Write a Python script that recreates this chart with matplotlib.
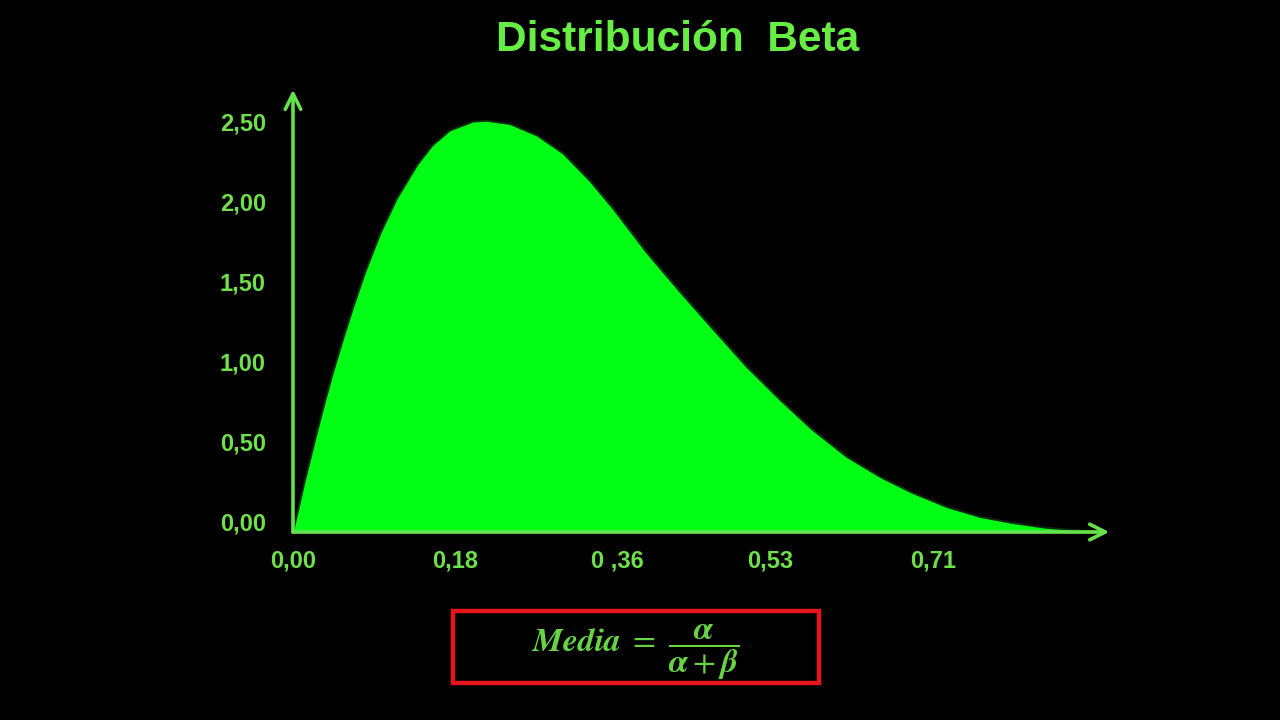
# curva de la distribucion beta, con ejes de flecha y formula de la media
from matplotlib import pyplot as plt
from matplotlib.patches import Rectangle
import numpy as np

# puntos (x, densidad)
x_val = [0.000, 0.013, 0.027, 0.036, 0.044, 0.056, 0.067, 0.080, 0.097, 0.115,
         0.138, 0.155, 0.174, 0.200, 0.215, 0.241, 0.271, 0.300, 0.330, 0.355,
         0.393, 0.430, 0.466, 0.504, 0.541, 0.577, 0.615, 0.652, 0.688, 0.726,
         0.763, 0.799, 0.837, 0.874, 0.900]
y_val = [0.000, 0.310, 0.620, 0.810, 0.970, 1.190, 1.380, 1.590, 1.830, 2.040,
         2.250, 2.370, 2.460, 2.515, 2.520, 2.500, 2.430, 2.320, 2.150, 1.985,
         1.710, 1.470, 1.245, 1.011, 0.809, 0.625, 0.460, 0.337, 0.239, 0.153,
         0.092, 0.055, 0.025, 0.010, 0.000]

x_ticks = [0.00, 0.18, 0.36, 0.53, 0.71]
x_labels = ['0,00', '0,18', '0 ,36', '0,53', '0,71']
y_ticks = [0.0, 0.5, 1.0, 1.5, 2.0, 2.5]
y_labels = ['0,00', '0,50', '1,00', '1,50', '2,00', '2,50']

green_txt = '#6fe04a'
green_axis = '#66e04c'
fill_green = '#00ff14'

plt.rcParams['font.family'] = ['Liberation Sans', 'DejaVu Sans']
plt.rcParams['mathtext.fontset'] = 'stix'

fig = plt.figure(figsize=(12.8, 7.2), dpi=100, facecolor='black')

# posicion de los ejes en pixeles (origen 293,532 ; 901 px por unidad en x, 163.2 en y)
xlim = (-0.1, 0.95)
ylim = (-0.3, 2.8)
px_x, px_y = 901.0, 163.2
left = 293 - (0 - xlim[0]) * px_x
bottom = 720 - (532 + (0 - ylim[0]) * px_y)
ax = fig.add_axes([left / 1280, bottom / 720,
                   (xlim[1] - xlim[0]) * px_x / 1280,
                   (ylim[1] - ylim[0]) * px_y / 720])
ax.set_facecolor('black')
ax.set_xlim(xlim)
ax.set_ylim(ylim)
for s in ax.spines.values():
    s.set_visible(False)
ax.set_xticks([])
ax.set_yticks([])

# area bajo la curva
ax.fill_between(x_val, y_val, 0, color=fill_green, zorder=2)
ax.plot(x_val, y_val, color='#0b2a0b', linewidth=1.4, zorder=3,
        solid_joinstyle='round')

# ejes con flecha
ax.annotate('', xy=(0.906, 0), xytext=(0, 0),
            arrowprops=dict(arrowstyle='->', color=green_axis, lw=2.6,
                            mutation_scale=28, shrinkA=0, shrinkB=0), zorder=4)
ax.annotate('', xy=(0, 2.71), xytext=(0, 0),
            arrowprops=dict(arrowstyle='->', color=green_axis, lw=2.6,
                            mutation_scale=28, shrinkA=0, shrinkB=0), zorder=4)

# etiquetas (las del eje y van un poco mas juntas que la escala)
for xt, lab in zip(x_ticks, x_labels):
    ax.text(xt, -0.18, lab, color=green_txt, fontsize=17, fontweight='bold',
            ha='center', va='center')
for yt, lab in zip(y_ticks, y_labels):
    ax.text(-0.03, (8 + 160 * yt) / px_y, lab, color=green_txt, fontsize=17,
            fontweight='bold', ha='right', va='center')

fig.text(678 / 1280, 1 - 51 / 720, 'Distribución  Beta', color='#66ee44',
         fontsize=30.5, fontweight='bold', ha='center', va='baseline')

# recuadro con la media
fig.patches.append(Rectangle((453 / 1280, 1 - 683 / 720), 366 / 1280, 72 / 720,
                             transform=fig.transFigure, fill=False,
                             edgecolor='#e8141c', linewidth=3.2))
fig.text(636 / 1280, 1 - 652 / 720,
         r'$\mathbfit{Media}\ =\ \dfrac{\boldsymbol{\alpha}}{\boldsymbol{\alpha}+\boldsymbol{\beta}}$',
         color='#66d444', fontsize=24, ha='center', va='center')

fig.savefig('out.png', dpi=100, facecolor='black')
